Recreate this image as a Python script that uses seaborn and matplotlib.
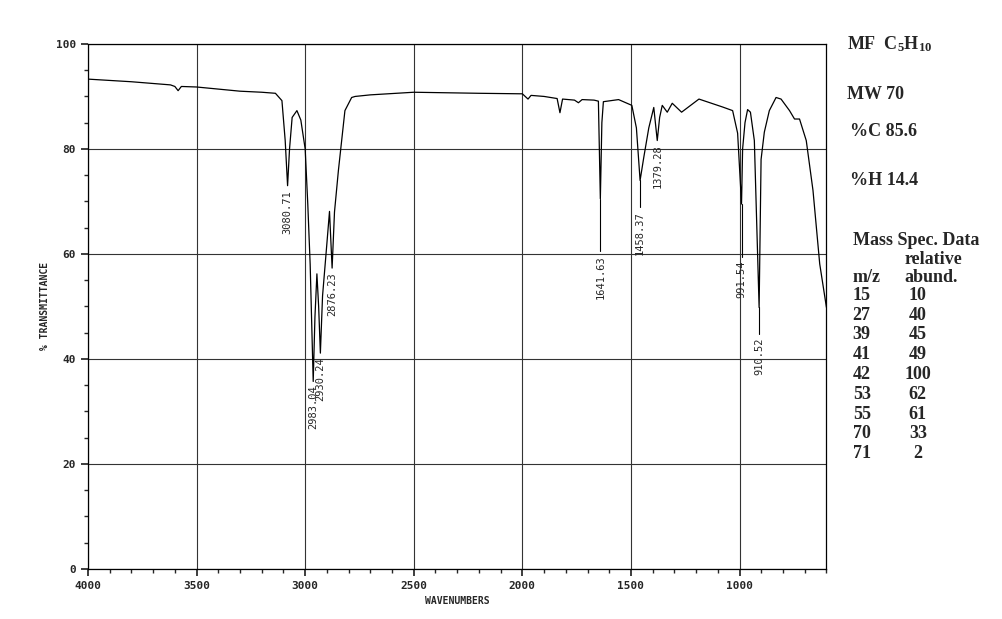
import matplotlib
matplotlib.use("Agg")
import matplotlib.pyplot as plt
import seaborn as sns
import numpy as np

wavenumber = [4000, 3800, 3620, 3600, 3585, 3570, 3500, 3300, 3200, 3137, 3107, 3092, 3081, 3072, 3060, 3038, 3020, 3000,
              2988, 2977, 2963, 2955, 2946, 2938, 2930, 2920, 2900, 2888, 2876, 2865, 2847, 2832, 2817, 2786, 2770, 2700,
              2500, 2200, 2000, 1974, 1960, 1900, 1840, 1827, 1815, 1760, 1742, 1725, 1670, 1650, 1641, 1634, 1627, 1557,
              1496, 1475, 1458, 1441, 1418, 1395, 1379, 1368, 1356, 1333, 1310, 1267, 1187, 1079, 1032, 1009, 991, 986,
              975, 963, 950, 932, 910, 901, 886, 863, 832, 809, 770, 747, 724, 693, 662, 631, 600]
transmittance = [93.3, 92.8, 92.2, 91.9, 91.1, 91.9, 91.8, 91.0, 90.8, 90.6, 89.2, 81.6, 73.0, 80.0, 86.0, 87.3, 85.5, 80.0,
                 69.5, 58.0, 35.7, 48.0, 56.2, 50.0, 41.1, 52.0, 62.0, 68.1, 57.3, 68.0, 75.9, 81.6, 87.3, 89.8, 90.0, 90.3,
                 90.8, 90.6, 90.5, 89.5, 90.2, 90.0, 89.6, 86.9, 89.5, 89.3, 88.8, 89.4, 89.3, 89.1, 70.5, 85.0, 89.0, 89.4,
                 88.3, 84.0, 74.0, 78.4, 84.0, 87.9, 81.6, 86.0, 88.3, 87.0, 88.7, 87.0, 89.5, 88.0, 87.3, 83.0, 69.5, 80.0,
                 85.0, 87.5, 87.0, 81.6, 49.8, 78.0, 83.2, 87.3, 89.8, 89.5, 87.3, 85.7, 85.7, 81.6, 72.1, 58.1, 49.8]

peak_labels = ["3080.71", "2983.04", "2930.24", "2876.23", "1641.63", "1458.37", "1379.28", "991.54", "910.52"]
peak_x = [3081, 2963, 2930, 2876, 1641, 1458, 1379, 991, 910]
peak_y = [73.0, 35.7, 41.1, 57.3, 70.5, 74.0, 81.6, 69.5, 49.8]
peak_len = [0, 0, 0, 0, 10, 5, 0, 10, 5]

mz = [15, 27, 39, 41, 42, 53, 55, 70, 71]
abund = [10, 40, 45, 49, 100, 62, 61, 33, 2]

sns.set_theme(style="white")
plt.rcParams['font.family'] = ['DejaVu Sans']
plt.rcParams['mathtext.default'] = 'regular'

fig = plt.figure(figsize=(10.02, 6.19), dpi=100)
ax = fig.add_axes([0.0878, 0.081, 0.737, 0.848])
sns.lineplot(x=wavenumber, y=transmittance, ax=ax, color="black", linewidth=0.9, sort=False)
ax.set_xlim(4000, 600)
ax.set_ylim(0, 100)
ax.set_xticks([4000, 3500, 3000, 2500, 2000, 1500, 1000])
ax.set_xticks(np.arange(4000, 599, -100), minor=True)
ax.set_yticks([0, 20, 40, 60, 80, 100])
ax.set_yticks(np.arange(0, 101, 5), minor=True)
ax.tick_params(axis='both', which='major', length=5, direction='out', labelsize=8, bottom=True, left=True)
ax.tick_params(axis='both', which='minor', length=3, direction='out', bottom=True, left=True)
for lab in ax.get_xticklabels() + ax.get_yticklabels():
    lab.set_family('DejaVu Sans Mono'); lab.set_weight('bold')
ax.grid(True, which='major', color='#333333', linewidth=0.8)
for s in ax.spines.values():
    s.set_color('black'); s.set_linewidth(0.9)
ax.set_xlabel("WAVENUMBERS", fontsize=7, family='DejaVu Sans Mono', weight='bold')
ax.set_ylabel("% TRANSMITTANCE", fontsize=7, family='DejaVu Sans Mono', weight='bold')

for lab, x, y, l in zip(peak_labels, peak_x, peak_y, peak_len):
    if l:
        ax.plot([x, x], [y, y - l], color='black', lw=0.8)
    ax.text(x, y - l - 0.8, lab, rotation=90, ha='center', va='top', fontsize=7.5, family='DejaVu Sans Mono')

serif = dict(family='Liberation Serif', weight='bold', fontsize=13, va='center', transform=fig.transFigure)
fig.text(0.845, 0.928, "MF  C$_5$H$_{10}$", **serif)
fig.text(0.845, 0.848, "MW 70", **serif)
fig.text(0.848, 0.788, "%C 85.6", **serif)
fig.text(0.848, 0.709, "%H 14.4", **serif)
fig.text(0.851, 0.612, "Mass Spec. Data", **serif)
fig.text(0.903, 0.580, "relative", **serif)
fig.text(0.851, 0.551, "m/z", **serif)
fig.text(0.903, 0.551, "abund.", **serif)
for i, (m, a) in enumerate(zip(mz, abund)):
    yy = 0.523 - i * 0.032
    fig.text(0.851, yy, str(m), **serif)
    fig.text(0.916, yy, str(a), ha='center', **serif)

fig.savefig("out.png", dpi=100, facecolor='white')
